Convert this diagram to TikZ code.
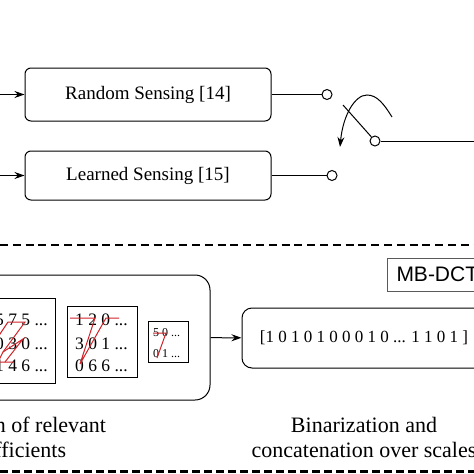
\documentclass[tikz,border=0pt]{standalone}
\usepackage{fontspec}
\setmainfont{Liberation Serif}
\setsansfont{Liberation Sans}
\usetikzlibrary{arrows.meta,positioning}

\definecolor{zzred}{RGB}{208,35,40}
\definecolor{boxgray}{RGB}{90,90,90}

\tikzset{
  sensebox/.style={draw, rounded corners=6pt, line width=1pt, minimum width=246pt, minimum height=53pt, font=\fontsize{19}{22}\selectfont},
  port/.style={circle, draw, fill=white, line width=1pt, inner sep=0pt, minimum size=10pt},
  matbox/.style={draw, line width=1pt, inner sep=0pt},
  matrow/.style={anchor=west, inner sep=0pt, font=\fontsize{17.5}{20}\selectfont},
  zz/.style={draw=zzred, line width=1pt},
  captxt/.style={align=center, font=\fontsize{22}{25}\selectfont},
  flow/.style={-{Stealth[length=10pt,width=7pt]}, line width=1pt},
}

\begin{document}
\begin{tikzpicture}[x=1pt,y=-1pt]
\useasboundingbox (0,0) rectangle (474,474);

%Sensing boxes
\node[sensebox] (rand) at (148,94.5) {Random Sensing [14]};
\node[sensebox, minimum height=49pt] (learn) at (148,175.5) {Learned Sensing [15]};
\coordinate (randin) at (0,94.5);
\coordinate (learnin) at (0,175.5);
\draw[flow] (randin) -- (rand);
\draw[flow] (learnin) -- (learn);

%Switch terminals
\node[port] (randout) at (327,94.5) {};
\node[port] (learnout) at (332,175.5) {};
\node[port] (swc) at (375,141) {};
\coordinate (swend) at (474,141);
\coordinate (lever) at (343,105);
\draw[line width=1pt] (rand.east) -- (randout);
\draw[line width=1pt] (learn.east) -- (learnout);
\draw[line width=1pt] (swc) -- (swend);
\draw[line width=1pt] (swc) -- (lever);
%Curved arrow of the switch
\draw[flow] (392,117) .. controls (384,104) and (377,95) .. (367,95) .. controls (355,95) and (343,115) .. (340,147);

%Dashed separators
\draw[line width=2pt, dash pattern=on 8pt off 4.8pt] (0,245) -- (474,245);
\draw[line width=3pt, dash pattern=on 8pt off 4pt] (0,471) -- (474,471);

% Text Node
\node[draw=boxgray, line width=1pt, anchor=west, minimum height=33pt, inner xsep=9pt, text width=100pt, font=\sffamily\fontsize{21}{24}\selectfont] (mbdct) at (387,274.5) {MB-DCT};

%Coefficient selection
\node[draw, rounded corners=15pt, line width=1pt, minimum width=250pt, minimum height=125pt] (coef) at (85,337.5) {};
\node[draw, rounded corners=10pt, line width=1pt, minimum width=244pt, minimum height=60pt, font=\fontsize{17}{20}\selectfont] (bits) at (364,338) {[1 0 1 0 1 0 0 0 1 0 ... 1 1 0 1 ]};
\draw[flow] (coef) -- (bits);

%Scale 1
\node[matbox, minimum width=80pt, minimum height=85pt] (mat1) at (15,340.5) {};
\node[matrow] (m1a) at (-5,320) {5 7 5 ...};
\node[matrow] (m1b) at (-5,344) {0 3 0 ...};
\node[matrow] (m1c) at (-5,366) {1 4 6 ...};
\draw[zz] (-4,340) -- (8,322) -- (25,322) -- (3,352) -- (-2,362) -- (14,362);
\draw[zz] (3,352) -- (23,339) -- (5,362);

%Scale 2
\node[matbox, minimum width=70pt, minimum height=71pt] (mat2) at (102,341.5) {};
\node[matrow] (m2a) at (75,320) {1 2 0 ...};
\node[matrow] (m2b) at (75,344) {3 0 1 ...};
\node[matrow] (m2c) at (75,366) {0 6 6 ...};
\draw[zz] (70,318) -- (95,318) -- (80,364) -- (106,318) -- (119,318);

%Scale 3
\node[matbox, minimum width=40pt, minimum height=41pt] (mat3) at (168,341.5) {};
\node[matrow, font=\fontsize{12}{14}\selectfont] (m3a) at (153,333) {5 0 ...};
\node[matrow, font=\fontsize{12}{14}\selectfont] (m3b) at (153,354) {0 1 ...};
\draw[zz] (153,333) -- (166,333) -- (157,358);

% Text Node
\node[captxt] (seltxt) at (15,437) {Selection of relevant\\coefficients};
\node[captxt] (bintxt) at (364,437) {Binarization and\\concatenation over scales};

\end{tikzpicture}
\end{document}
